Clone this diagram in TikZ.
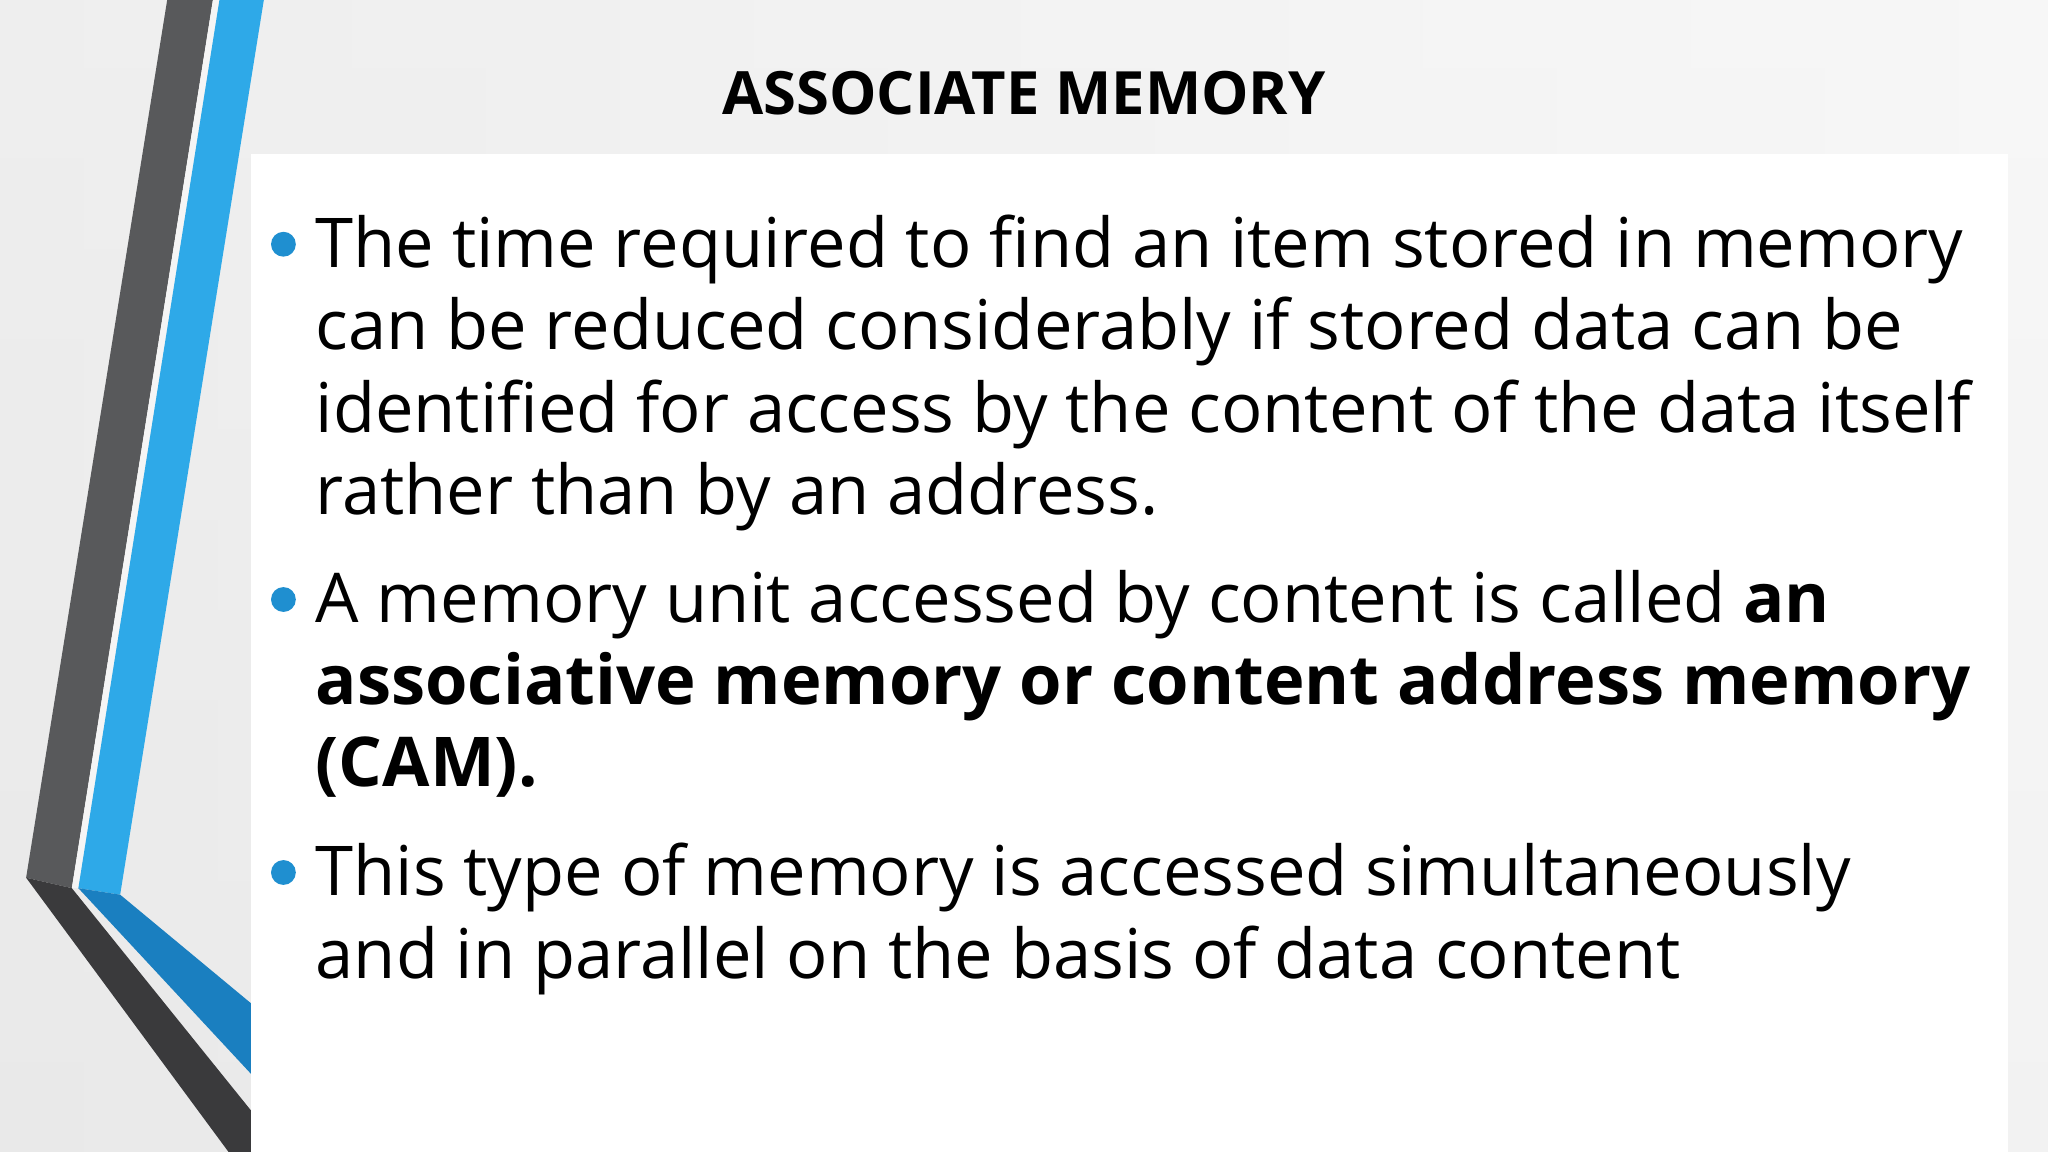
\documentclass[tikz,border=0pt]{standalone}
\usepackage{fontspec}
\setmainfont{Open Sans}
\begin{document}
\begin{tikzpicture}[x=0.01cm,y=-0.01cm,
  body/.style={anchor=north west,align=left,inner sep=0pt,font=\fontsize{14.95}{17.9}\selectfont},
  bullet/.style={circle,fill=bulletblue,inner sep=0pt,minimum size=0.19cm}]
\definecolor{bulletblue}{HTML}{1F8FD0}
\definecolor{band}{HTML}{2EA9E8}
\definecolor{bandd}{HTML}{1A7FC0}
\definecolor{dk}{HTML}{58595B}
\definecolor{dkk}{HTML}{3A3A3C}
\useasboundingbox (0,0) rectangle (1568,882);
\shade[top color=white!90!gray, bottom color=white!80!gray] (0,0) rectangle (1568,882);
\shade[left color=white!85!gray,right color=white!97!gray,opacity=0.6] (0,0) rectangle (1568,882);
% decoration
\fill[dk] (128,0) -- (163,0) -- (55,680) -- (20,672) -- cycle;
\fill[dkk] (20,672) -- (55,680) -- (192,850) -- (192,882) -- (175,882) -- cycle;
\fill[white!92!gray] (163,0) -- (168,0) -- (60,680) -- (55,680) -- cycle;
\fill[band] (168,0) -- (202,0) -- (92,685) -- (60,680) -- cycle;
\fill[bandd] (60,680) -- (92,685) -- (192,768) -- (192,822) -- cycle;
% white panel
\fill[white] (192,118) rectangle (1537,882);
\node[font=\bfseries\fontsize{13}{16}\selectfont,anchor=center] (title) at (784,71) {ASSOCIATE MEMORY};
\node[bullet] (b1) at (217,187) {};
\node[body] (t1) at (241,164) {The time required to find an item stored in memory\\ can be reduced considerably if stored data can be\\ identified for access by the content of the data itself\\ rather than by an address.};
\node[bullet] (b2) at (217,459) {};
\node[body] (t2) at (241,436) {A memory unit accessed by content is called \textbf{an}\\ \textbf{associative memory or content address memory}\\ \textbf{(CAM).}};
\node[bullet] (b3) at (217,668) {};
\node[body] (t3) at (241,645) {This type of memory is accessed simultaneously\\ and in parallel on the basis of data content};
\end{tikzpicture}
\end{document}
